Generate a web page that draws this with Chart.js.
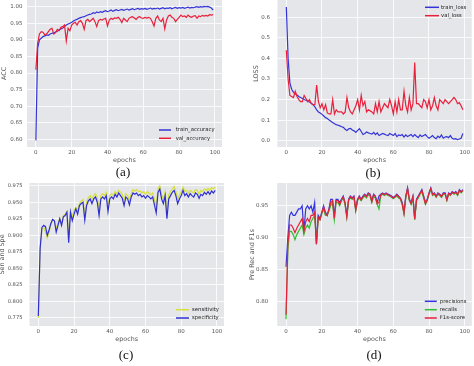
<!DOCTYPE html>
<html><head><meta charset="utf-8">
<script src="https://cdn.jsdelivr.net/npm/chart.js@4.4.1/dist/chart.umd.min.js"></script>
<style>
html,body{margin:0;padding:0;background:#fff;width:474px;height:366px;overflow:hidden;}
canvas{position:absolute;}
.cap{position:absolute;font-family:"Liberation Serif","Times New Roman",serif;font-size:13px;color:#111;transform:translate(-50%,-50%);white-space:nowrap;}
</style></head><body>
<canvas id="ca" width="237" height="183" style="left:0;top:0"></canvas>
<canvas id="cb" width="237" height="183" style="left:237px;top:0"></canvas>
<canvas id="cc" width="237" height="183" style="left:0;top:183px"></canvas>
<canvas id="cd" width="237" height="183" style="left:237px;top:183px"></canvas>
<div class="cap" style="left:123px;top:172px">(a)</div>
<div class="cap" style="left:373px;top:173px">(b)</div>
<div class="cap" style="left:126px;top:355px">(c)</div>
<div class="cap" style="left:374px;top:355px">(d)</div>
<script>
const epochs = [0,1,2,3,4,5,6,7,8,9,10,11,12,13,14,15,16,17,18,19,20,21,22,23,24,25,26,27,28,29,30,31,32,33,34,35,36,37,38,39,40,41,42,43,44,45,46,47,48,49,50,51,52,53,54,55,56,57,58,59,60,61,62,63,64,65,66,67,68,69,70,71,72,73,74,75,76,77,78,79,80,81,82,83,84,85,86,87,88,89,90,91,92,93,94,95,96,97,98,99];

const trainAccuracy = [0.597,0.875,0.900,0.905,0.910,0.912,0.915,0.914,0.918,0.920,0.921,0.924,0.926,0.930,0.933,0.936,0.940,0.945,0.948,0.950,0.953,0.957,0.960,0.962,0.965,0.967,0.969,0.970,0.973,0.975,0.977,0.978,0.982,0.980,0.984,0.982,0.985,0.983,0.986,0.988,0.985,0.987,0.990,0.986,0.989,0.991,0.988,0.990,0.992,0.989,0.991,0.993,0.990,0.992,0.994,0.991,0.993,0.995,0.992,0.994,0.993,0.995,0.992,0.994,0.996,0.993,0.995,0.994,0.996,0.993,0.995,0.997,0.994,0.996,0.995,0.997,0.994,0.996,0.998,0.995,0.997,0.996,0.998,0.995,0.997,0.999,0.996,0.998,0.997,0.999,1.000,0.998,1.000,0.999,1.001,1.000,1.001,0.999,0.996,0.990];
const valAccuracy = [0.810,0.890,0.918,0.925,0.923,0.915,0.918,0.925,0.932,0.935,0.918,0.922,0.932,0.928,0.938,0.940,0.945,0.897,0.935,0.928,0.945,0.950,0.953,0.945,0.955,0.958,0.950,0.932,0.958,0.962,0.955,0.960,0.965,0.955,0.940,0.958,0.962,0.960,0.963,0.965,0.942,0.960,0.965,0.962,0.966,0.965,0.968,0.962,0.952,0.965,0.960,0.955,0.965,0.968,0.970,0.966,0.962,0.968,0.970,0.966,0.965,0.968,0.966,0.968,0.965,0.955,0.942,0.965,0.972,0.960,0.955,0.965,0.933,0.960,0.972,0.975,0.968,0.965,0.955,0.962,0.968,0.975,0.970,0.972,0.968,0.975,0.970,0.968,0.972,0.973,0.965,0.972,0.970,0.974,0.972,0.974,0.972,0.976,0.975,0.976];

const trainLoss = [0.650,0.400,0.280,0.250,0.235,0.228,0.222,0.215,0.210,0.205,0.200,0.197,0.192,0.188,0.182,0.175,0.165,0.150,0.140,0.135,0.128,0.120,0.112,0.108,0.100,0.095,0.088,0.082,0.078,0.075,0.072,0.068,0.065,0.055,0.050,0.058,0.060,0.052,0.048,0.040,0.050,0.058,0.045,0.030,0.035,0.042,0.038,0.035,0.032,0.040,0.030,0.038,0.025,0.030,0.035,0.032,0.028,0.025,0.035,0.030,0.025,0.035,0.020,0.028,0.025,0.030,0.018,0.028,0.020,0.025,0.030,0.020,0.030,0.022,0.015,0.028,0.020,0.025,0.030,0.020,0.012,0.018,0.025,0.015,0.010,0.022,0.015,0.028,0.012,0.018,0.020,0.015,0.025,0.012,0.008,0.010,0.005,0.008,0.012,0.035];
const valLoss = [0.440,0.300,0.220,0.215,0.210,0.240,0.215,0.200,0.190,0.190,0.220,0.205,0.190,0.200,0.180,0.175,0.175,0.270,0.190,0.160,0.180,0.150,0.175,0.135,0.130,0.130,0.200,0.130,0.150,0.140,0.140,0.140,0.130,0.140,0.210,0.160,0.140,0.130,0.150,0.170,0.200,0.150,0.220,0.170,0.190,0.140,0.150,0.145,0.140,0.130,0.180,0.140,0.190,0.140,0.160,0.180,0.170,0.160,0.200,0.170,0.130,0.190,0.140,0.200,0.150,0.150,0.240,0.170,0.140,0.210,0.150,0.180,0.380,0.180,0.180,0.170,0.160,0.200,0.190,0.160,0.200,0.150,0.170,0.210,0.170,0.150,0.200,0.190,0.180,0.200,0.190,0.180,0.190,0.200,0.210,0.200,0.180,0.185,0.170,0.150];

const sensitivity = [0.775,0.880,0.910,0.912,0.905,0.896,0.905,0.916,0.924,0.921,0.910,0.918,0.926,0.918,0.930,0.932,0.936,0.900,0.936,0.928,0.938,0.942,0.938,0.948,0.952,0.954,0.932,0.950,0.957,0.960,0.955,0.960,0.963,0.957,0.940,0.960,0.963,0.960,0.965,0.945,0.960,0.963,0.960,0.966,0.963,0.968,0.965,0.962,0.952,0.963,0.960,0.953,0.963,0.969,0.967,0.969,0.966,0.967,0.964,0.966,0.962,0.966,0.964,0.961,0.964,0.954,0.944,0.970,0.975,0.961,0.955,0.966,0.935,0.961,0.966,0.970,0.974,0.966,0.955,0.961,0.966,0.973,0.966,0.968,0.964,0.968,0.966,0.964,0.969,0.968,0.962,0.968,0.966,0.970,0.968,0.971,0.968,0.972,0.970,0.973];
const specificity = [0.778,0.880,0.912,0.915,0.913,0.900,0.908,0.918,0.924,0.922,0.905,0.915,0.925,0.915,0.928,0.930,0.935,0.889,0.935,0.922,0.932,0.940,0.932,0.945,0.948,0.950,0.923,0.945,0.952,0.955,0.948,0.955,0.958,0.950,0.930,0.955,0.958,0.955,0.960,0.936,0.955,0.958,0.955,0.962,0.958,0.964,0.960,0.956,0.945,0.958,0.955,0.946,0.958,0.964,0.962,0.964,0.960,0.962,0.958,0.960,0.956,0.960,0.958,0.955,0.958,0.946,0.934,0.965,0.970,0.955,0.948,0.960,0.925,0.955,0.960,0.965,0.968,0.960,0.948,0.955,0.960,0.968,0.960,0.963,0.958,0.963,0.960,0.958,0.964,0.962,0.956,0.962,0.960,0.965,0.962,0.966,0.962,0.967,0.964,0.968];

const precisions = [0.855,0.900,0.935,0.940,0.935,0.935,0.940,0.945,0.945,0.950,0.910,0.945,0.950,0.945,0.950,0.940,0.955,0.890,0.935,0.930,0.940,0.950,0.940,0.935,0.945,0.960,0.960,0.935,0.960,0.960,0.955,0.960,0.965,0.955,0.935,0.960,0.965,0.962,0.965,0.945,0.960,0.965,0.960,0.965,0.968,0.965,0.970,0.968,0.958,0.968,0.965,0.955,0.965,0.968,0.970,0.968,0.970,0.968,0.967,0.965,0.963,0.965,0.968,0.965,0.962,0.955,0.940,0.965,0.978,0.960,0.955,0.965,0.930,0.960,0.965,0.970,0.975,0.965,0.955,0.960,0.970,0.978,0.968,0.970,0.965,0.970,0.968,0.965,0.970,0.970,0.960,0.970,0.968,0.972,0.970,0.972,0.968,0.975,0.972,0.975];
const recalls = [0.773,0.880,0.910,0.910,0.905,0.897,0.905,0.910,0.915,0.920,0.905,0.915,0.920,0.915,0.925,0.930,0.935,0.893,0.930,0.928,0.938,0.945,0.935,0.935,0.942,0.950,0.955,0.928,0.955,0.955,0.950,0.958,0.962,0.952,0.932,0.958,0.962,0.960,0.962,0.942,0.958,0.962,0.958,0.962,0.965,0.962,0.967,0.965,0.955,0.965,0.962,0.952,0.945,0.965,0.968,0.966,0.968,0.966,0.965,0.963,0.961,0.963,0.965,0.962,0.960,0.952,0.937,0.962,0.975,0.958,0.952,0.962,0.928,0.958,0.962,0.968,0.972,0.962,0.952,0.958,0.968,0.975,0.966,0.968,0.963,0.968,0.966,0.963,0.968,0.968,0.958,0.968,0.966,0.970,0.968,0.970,0.966,0.973,0.970,0.973];
const f1sScore = [0.780,0.890,0.920,0.920,0.915,0.908,0.915,0.920,0.925,0.930,0.910,0.925,0.930,0.925,0.935,0.935,0.940,0.890,0.932,0.928,0.938,0.948,0.938,0.935,0.944,0.955,0.958,0.930,0.958,0.958,0.952,0.959,0.964,0.954,0.933,0.959,0.964,0.961,0.964,0.943,0.959,0.964,0.959,0.964,0.967,0.964,0.969,0.967,0.956,0.967,0.964,0.953,0.955,0.967,0.969,0.967,0.969,0.967,0.966,0.964,0.962,0.964,0.967,0.964,0.961,0.953,0.938,0.964,0.977,0.959,0.953,0.964,0.929,0.959,0.964,0.969,0.974,0.964,0.953,0.959,0.969,0.977,0.967,0.969,0.964,0.969,0.967,0.964,0.969,0.969,0.959,0.969,0.967,0.971,0.969,0.971,0.967,0.974,0.971,0.974];

const xTickValues = [0,20,40,60,80,100];
const accTickValues = [0.60,0.65,0.70,0.75,0.80,0.85,0.90,0.95,1.00];
const lossTickValues = [0.0,0.1,0.2,0.3,0.4,0.5,0.6];
const senTickValues = [0.775,0.800,0.825,0.850,0.875,0.900,0.925,0.950,0.975];
const preTickValues = [0.80,0.85,0.90,0.95];

const FONT = '"DejaVu Sans", sans-serif';

const bgPlugin = {
  id: 'plotBg',
  beforeDraw(chart) {
    const {ctx, chartArea: a} = chart;
    ctx.save();
    ctx.fillStyle = '#e5e6e9';
    ctx.fillRect(a.left, a.top, a.right - a.left, a.bottom - a.top);
    ctx.restore();
  }
};
const legendPlugin = {
  id: 'miniLegend',
  afterDraw(chart, args, o) {
    const {ctx, chartArea: a} = chart;
    ctx.save();
    ctx.font = '5.3px ' + FONT;
    ctx.textBaseline = 'middle';
    ctx.textAlign = 'left';
    chart.data.datasets.forEach((ds, i) => {
      const y = o.fromTop ? a.top + o.rows[i] : a.bottom - o.rows[i];
      ctx.strokeStyle = ds.borderColor;
      ctx.lineWidth = 1.5;
      ctx.beginPath();
      ctx.moveTo(a.right + o.x0, y);
      ctx.lineTo(a.right + o.x1, y);
      ctx.stroke();
      ctx.fillStyle = '#222';
      ctx.fillText(ds.label, a.right + o.tx, y);
    });
    ctx.restore();
  }
};

function makeChart(id, p) {
  const datasets = p.series.map(s => ({
    label: s.label,
    data: s.values.map((v, i) => ({x: epochs[i], y: v})),
    borderColor: s.color,
    borderWidth: 1.2,
    pointRadius: 0,
    tension: 0,
    fill: false,
    order: s.order
  }));
  new Chart(document.getElementById(id), {
    type: 'line',
    data: {datasets},
    plugins: [bgPlugin, legendPlugin],
    options: {
      responsive: false,
      animation: false,
      devicePixelRatio: 1,
      layout: {padding: p.pad},
      plugins: {
        legend: {display: false},
        title: {display: false},
        tooltip: {enabled: false},
        miniLegend: p.legend
      },
      scales: {
        x: {
          type: 'linear',
          min: -4.95, max: 103.95,
          afterBuildTicks: s => { s.ticks = xTickValues.map(v => ({value: v})); },
          afterFit: s => { s.height = p.xH; s.paddingLeft = 0; s.paddingRight = 0; },
          ticks: {autoSkip: false, maxRotation: 0, minRotation: 0, padding: 2.2, color: '#555', font: {family: FONT, size: 5.5}, callback: v => String(v)},
          grid: {color: '#ffffff', lineWidth: 0.8, drawTicks: false},
          border: {display: false},
          title: {display: true, text: 'epochs', color: '#555', font: {family: FONT, size: 6.4}, padding: 0}
        },
        y: {
          type: 'linear',
          min: p.yMin, max: p.yMax,
          afterBuildTicks: s => { s.ticks = p.yTicks.map(v => ({value: v})); },
          afterFit: s => { s.width = p.yW; s.paddingTop = 0; s.paddingBottom = 0; },
          ticks: {autoSkip: false, padding: p.yTickPad, color: '#555', font: {family: FONT, size: p.yTickSize}, callback: v => Number(v).toFixed(p.yDigits)},
          grid: {color: '#ffffff', lineWidth: 0.8, drawTicks: false},
          border: {display: false},
          title: {display: true, text: p.yTitle, color: '#555', font: {family: FONT, size: 6.4}, padding: {top: p.yTitlePad, bottom: 0}}
        }
      }
    }
  });
}

makeChart('ca', {
  series: [
    {label: 'train_accuracy', values: trainAccuracy, color: '#3434d6', order: 1},
    {label: 'val_accuracy', values: valAccuracy, color: '#e8203c', order: 0}
  ],
  yMin: 0.577, yMax: 1.0203, yTicks: accTickValues, yDigits: 2, yTitle: 'ACC',
  yW: 27, xH: 17.5, pad: {left: 0, right: 15, top: 0, bottom: 18.5},
  yTickPad: 4.5, yTickSize: 5.5, yTitlePad: 0.7,
  legend: {fromTop: false, rows: [17, 8.7], x0: -63, x1: -51, tx: -46.3}
});
makeChart('cb', {
  series: [
    {label: 'train_loss', values: trainLoss, color: '#3434d6', order: 1},
    {label: 'val_loss', values: valLoss, color: '#e8203c', order: 0}
  ],
  yMin: -0.0306, yMax: 0.684, yTicks: lossTickValues, yDigits: 1, yTitle: 'LOSS',
  yW: 40.5, xH: 17.5, pad: {left: 0, right: 2.3, top: 0, bottom: 18.5},
  yTickPad: 7.5, yTickSize: 5.5, yTitlePad: 16,
  legend: {fromTop: true, rows: [7.3, 15.7], x0: -46.7, x1: -32.7, tx: -30.7}
});
makeChart('cc', {
  series: [
    {label: 'sensitivity', values: sensitivity, color: '#d5e03c', order: 1},
    {label: 'specificity', values: specificity, color: '#2f2fd0', order: 0}
  ],
  yMin: 0.7629, yMax: 0.9791, yTicks: senTickValues, yDigits: 3, yTitle: 'Sen and Spe',
  yW: 29.5, xH: 17.5, pad: {left: 0, right: 13, top: 0, bottom: 22.5},
  yTickPad: 7, yTickSize: 5.2, yTitlePad: -1.8,
  legend: {fromTop: false, rows: [16.3, 8], x0: -48, x1: -35, tx: -32}
});
makeChart('cd', {
  series: [
    {label: 'precisions', values: precisions, color: '#3434e0', order: 2},
    {label: 'recalls', values: recalls, color: '#2fbf2f', order: 1},
    {label: 'F1s-score', values: f1sScore, color: '#e8203c', order: 0}
  ],
  yMin: 0.7626, yMax: 0.9854, yTicks: preTickValues, yDigits: 2, yTitle: 'Pre Rec and F1s',
  yW: 40.2, xH: 17.5, pad: {left: 0, right: 2.2, top: 0, bottom: 22.5},
  yTickPad: 9, yTickSize: 5.5, yTitlePad: 11.2,
  legend: {fromTop: false, rows: [24.7, 16.3, 8], x0: -47, x1: -35, tx: -32}
});
</script>
</body></html>
